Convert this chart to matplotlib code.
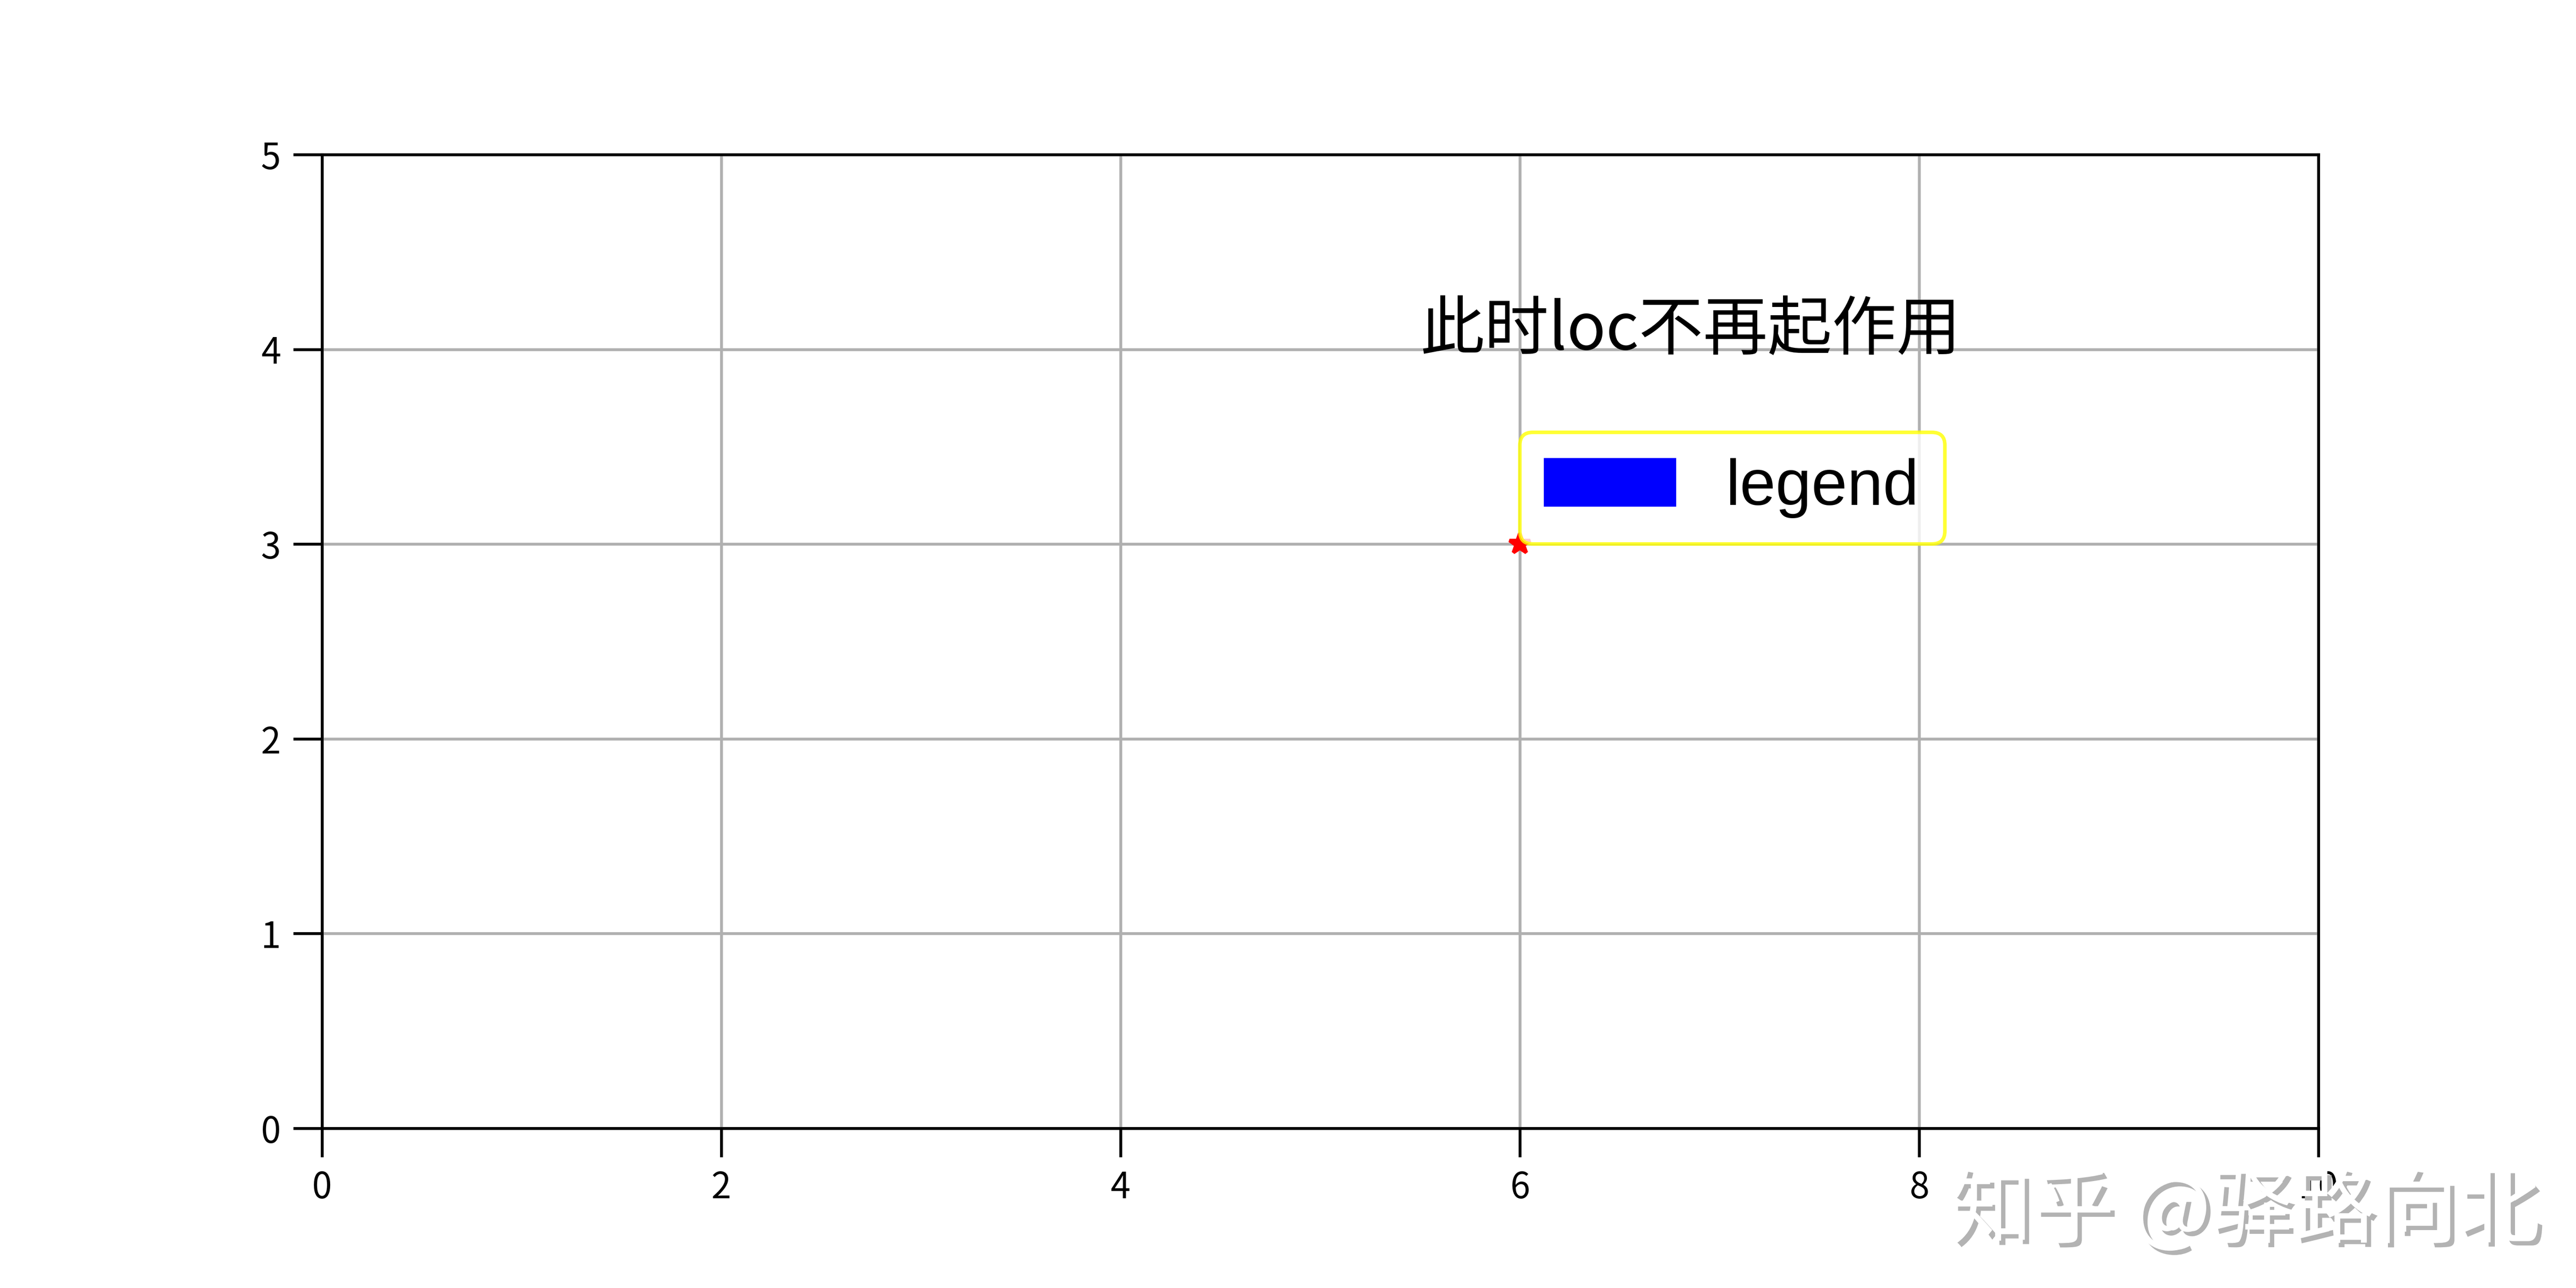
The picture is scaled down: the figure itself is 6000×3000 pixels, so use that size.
import matplotlib
matplotlib.use('Agg')
import matplotlib.pyplot as plt
import matplotlib.patches as mpatches
import matplotlib.patheffects as pe

# 字体设置
plt.rcParams['font.family'] = ['Noto Sans CJK SC', 'DejaVu Sans']
plt.rcParams['axes.unicode_minus'] = False

# 数据
star_x = [6]
star_y = [3]
x_ticks = [0, 2, 4, 6, 8, 10]
y_ticks = [0, 1, 2, 3, 4, 5]
legend_label = 'legend'
note_text = '此时loc不再起作用'
watermark = '知乎 @驿路向北'

fig, ax = plt.subplots(figsize=(10, 5), dpi=600)
fig.subplots_adjust(left=0.125, right=0.9, top=0.88, bottom=0.124)

ax.set_xlim(0, 10)
ax.set_ylim(0, 5)
ax.set_xticks(x_ticks)
ax.set_yticks(y_ticks)
ax.tick_params(length=8)
ax.grid(True)

# 红色星号: 图例的锚点
ax.plot(star_x, star_y, marker='*', color='red', linestyle='none', markersize=6)

ax.text(5.5, 4, note_text, fontsize=18)

handle = mpatches.Patch(color='blue', label=legend_label)
ax.legend(handles=[handle], loc='lower left',
          bbox_to_anchor=(star_x[0], star_y[0]), bbox_transform=ax.transData,
          borderaxespad=0, edgecolor='yellow',
          prop={'family': ['Liberation Sans'], 'size': 18})

# 水印
fig.text(0.986, 0.04, watermark, fontsize=23, color='white', ha='right',
         path_effects=[pe.withSimplePatchShadow(offset=(1.2, -1.2),
                                                shadow_rgbFace='#b3b3b3',
                                                alpha=1.0)])

plt.savefig('out.png', dpi=600)
